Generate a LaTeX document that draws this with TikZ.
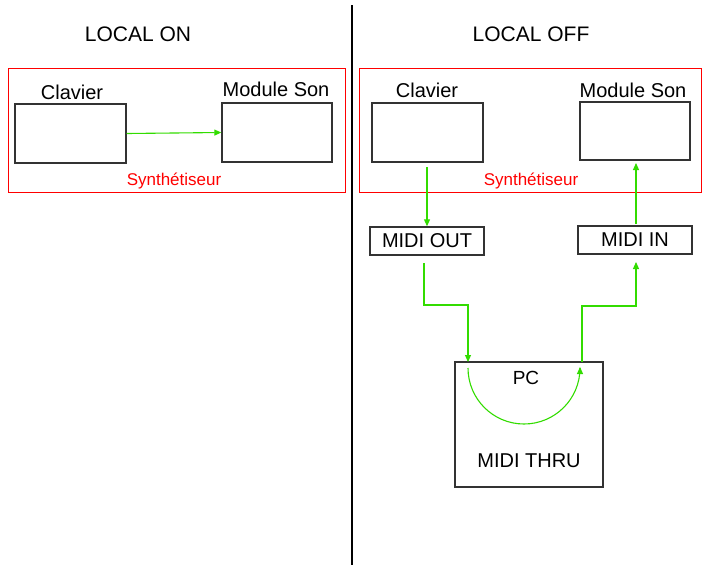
\documentclass[tikz,border=0pt]{standalone}
\usepackage{fontspec}
\setmainfont{Liberation Sans}
\usetikzlibrary{arrows.meta}
\definecolor{gr}{RGB}{50,220,0}
\begin{document}
\begin{tikzpicture}[x=1pt,y=-1pt,
  box/.style={draw=black!80,line width=1.4pt},
  syn/.style={draw=red,line width=1pt},
  g/.style={draw=gr,line width=1.1pt,-{Triangle[length=7pt,width=6pt]}},
  lab/.style={font=\fontsize{20}{22}\selectfont},
  head/.style={font=\fontsize{21}{23}\selectfont},
  rl/.style={text=red,font=\fontsize{17}{19}\selectfont}]
\useasboundingbox (0,0) rectangle (711,581);
\draw[line width=1.6pt] (352,5) -- (352,565);
\node[head] (lon) at (138,34) {LOCAL ON};
\node[head] (loff) at (531,34) {LOCAL OFF};
\draw[syn] (8,68) rectangle (345,192);
\draw[syn] (359,68) rectangle (701,192);
\node[rl] (s1) at (174,181) {Synthétiseur};
\node[rl] (s2) at (531,181) {Synthétiseur};
% left
\node[box,minimum width=111pt,minimum height=59pt] (c1) at (70.5,133.5) {};
\node[box,minimum width=110pt,minimum height=59pt] (m1) at (277,132.5) {};
\node[lab] at (72,92) {Clavier};
\node[lab] at (276,89) {Module Son};
\draw[g] (c1.east) -- (m1.west);
% right
\node[box,minimum width=111pt,minimum height=59pt] (c2) at (427.5,132.5) {};
\node[box,minimum width=110pt,minimum height=58pt] (m2) at (635,131) {};
\node[lab] at (427,90) {Clavier};
\node[lab] at (633,90) {Module Son};
\node[box,lab,minimum width=114pt,minimum height=28pt,inner sep=0pt] (out) at (427,241) {MIDI OUT};
\node[box,lab,minimum width=114pt,minimum height=28pt,inner sep=0pt] (in) at (635,240) {MIDI IN};
\node[box,minimum width=148pt,minimum height=125pt] (pc) at (529,424.5) {};
\node[font=\fontsize{19}{21}\selectfont] (pcl) at (526,378) {PC};
\node[lab] (thru) at (529,461) {MIDI THRU};
\coordinate (a1) at (427,167);
\coordinate (a2) at (424,263);
\coordinate (b1) at (636,224);
\coordinate (b2) at (636,262);
\draw[g] (a1) -- (out.north -| a1);
\draw[g] (a2) -- (424,305) -- (468,305) -- (468,362);
\draw[g] (468,368) arc[start angle=180,end angle=0,radius=56] -- (580,367);
\draw[g] (582,362) -- (582,306) -- (636,306) -- (b2);
\draw[g] (b1) -- (636,163);
\end{tikzpicture}
\end{document}
